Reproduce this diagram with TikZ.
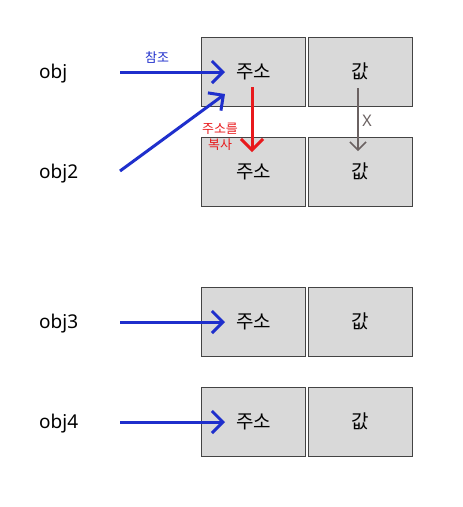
\documentclass[tikz,border=0pt]{standalone}
\usepackage{fontspec}
\setmainfont{Noto Sans}
\newfontfamily\kr{Noto Sans CJK KR}
\usetikzlibrary{arrows.meta}
\definecolor{boxfill}{HTML}{D9D9D9}
\definecolor{boxline}{HTML}{444444}
\definecolor{refblue}{HTML}{1F2FCC}
\definecolor{copyred}{HTML}{E8191C}
\definecolor{valgray}{HTML}{6B6262}
\begin{document}
\begin{tikzpicture}[x=1pt,y=-1pt,
  cell/.style={draw=boxline,line width=0.9pt,fill=boxfill,minimum width=104pt,minimum height=69pt,inner sep=0pt,font=\kr\fontsize{19}{19}\selectfont},
  objlabel/.style={anchor=west,inner sep=0pt,font=\fontsize{19}{19}\selectfont},
  refarrow/.style={draw=refblue,line width=3pt,-{Straight Barb[length=11pt,width=22pt,line width=3pt]}},
  copyarrow/.style={draw=copyred,line width=3pt,-{Straight Barb[length=11pt,width=22pt,line width=3pt]}},
  valarrow/.style={draw=valgray,line width=1.5pt,-{Straight Barb[length=8pt,width=16pt,line width=1.5pt]}}]
\useasboundingbox (0,0) rectangle (463,507);
% boxes
\node[cell] (a1) at (253.5,71.5) {주소};
\node[cell] (v1) at (360.5,71.5) {값};
\node[cell] (a2) at (253.5,171.5) {주소};
\node[cell] (v2) at (360.5,171.5) {값};
\node[cell] (a3) at (253.5,321.5) {주소};
\node[cell] (v3) at (360.5,321.5) {값};
\node[cell] (a4) at (253.5,421.5) {주소};
\node[cell] (v4) at (360.5,421.5) {값};
% labels
\node[objlabel] (o1) at (39,74) {obj};
\node[objlabel] (o2) at (39,174) {obj2};
\node[objlabel] (o3) at (39,324) {obj3};
\node[objlabel] (o4) at (39,424) {obj4};
% arrow endpoints
\coordinate (s1) at (120,72);
\coordinate (t1) at (225,72);
\coordinate (s2) at (120,171);
\coordinate (t2) at (225,94);
\coordinate (s3) at (120,322);
\coordinate (t3) at (225,322);
\coordinate (s4) at (120,422);
\coordinate (t4) at (225,422);
\coordinate (rs) at (252,87);
\coordinate (rt) at (252,152);
\coordinate (gs) at (358,88);
\coordinate (gt) at (358,151);
\draw[refarrow] (s1) -- (t1);
\draw[refarrow] (s2) -- (t2);
\draw[refarrow] (s3) -- (t3);
\draw[refarrow] (s4) -- (t4);
\draw[copyarrow] (rs) -- (rt);
\draw[valarrow] (gs) -- (gt);
\node[text=refblue,font=\kr\fontsize{13}{13}\selectfont,inner sep=0pt] (ref) at (157,58) {참조};
\node[text=copyred,font=\kr\fontsize{13}{16}\selectfont,inner sep=0pt,align=center] (cp) at (220,137) {주소를\\복사};
\node[text=valgray,font=\fontsize{16}{16}\selectfont,inner sep=0pt] (x) at (367,121) {X};
\end{tikzpicture}
\end{document}
